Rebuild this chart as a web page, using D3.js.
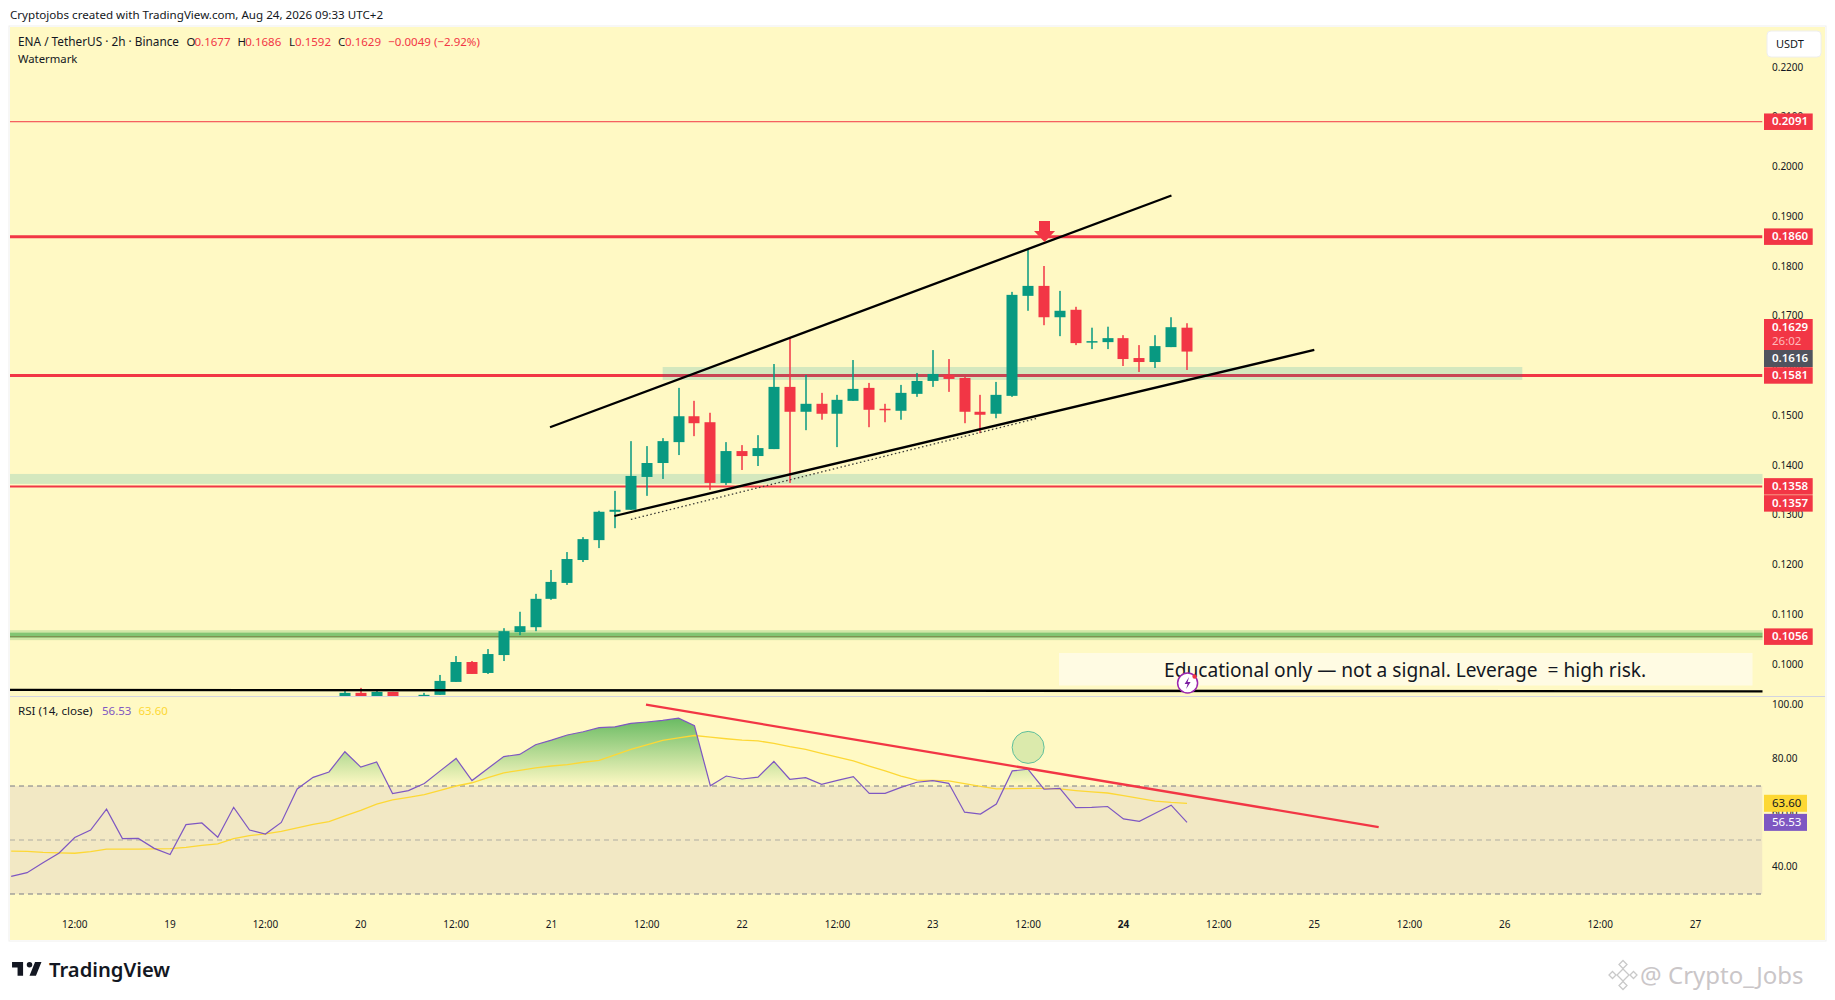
<!DOCTYPE html>
<html><head><meta charset="utf-8">
<script src="https://cdn.jsdelivr.net/npm/d3@7"></script>
<style>
html,body{margin:0;padding:0;background:#fff;width:1835px;height:1000px;overflow:hidden}
svg{display:block}
text{font-family:"Noto Sans",sans-serif}
</style></head><body>
<svg id="c" width="1835" height="1000"></svg>
<script>
// ---------- data ----------
const firstCandle = 17;
const opens  = [.0929,.0943,.0930,.0945,.0915,.0930,.0939,.0965,.1005,.0983,.1019,.1065,.1075,.1132,.1164,.1210,.1250,.1307,.1311,.1377,.1405,.1447,.1499,.1487,.1365,.1429,.1419,.1433,.1558,.1508,.1524,.1504,.1530,.1556,.1514,.1510,.1544,.1570,.1582,.1576,.1508,.1504,.1540,.1741,.1761,.1698,.1713,.1648,.1648,.1656,.1616,.1608,.1638,.1677];
const highs  = [.0950,.0953,.0947,.0945,.0933,.0943,.0979,.1017,.1007,.1031,.1073,.1106,.1142,.1190,.1226,.1256,.1309,.1349,.1449,.1439,.1455,.1556,.1530,.1506,.1447,.1441,.1461,.1604,.1658,.1582,.1546,.1542,.1612,.1566,.1524,.1562,.1586,.1632,.1614,.1578,.1542,.1568,.1749,.1835,.1801,.1751,.1719,.1677,.1679,.1662,.1642,.1662,.1698,.1686];
const lows   = [.0920,.0920,.0925,.0920,.0910,.0925,.0939,.0965,.0981,.0981,.1007,.1059,.1067,.1130,.1160,.1206,.1234,.1274,.1311,.1339,.1373,.1421,.1459,.1351,.1361,.1391,.1399,.1433,.1365,.1471,.1492,.1437,.1530,.1477,.1487,.1492,.1538,.1558,.1548,.1485,.1465,.1495,.1538,.1711,.1682,.1660,.1642,.1634,.1634,.1600,.1588,.1596,.1638,.1592];
const closes = [.0943,.0929,.0945,.0925,.0930,.0939,.0967,.1005,.0981,.1021,.1067,.1077,.1132,.1166,.1212,.1252,.1307,.1311,.1379,.1405,.1449,.1499,.1485,.1365,.1429,.1419,.1435,.1558,.1508,.1524,.1504,.1532,.1554,.1512,.1512,.1546,.1570,.1584,.1574,.1508,.1502,.1542,.1743,.1761,.1698,.1711,.1646,.1650,.1656,.1614,.1608,.1640,.1678,.1629];

const firstRsi = -4;
const rsi = [36.5,37.9,41.6,45.1,50.9,53.7,61.4,50.5,50.6,46.9,44.6,55.7,56.3,51.0,62.1,53.7,52.2,56.5,68.9,73.2,75.2,82.7,77.0,78.9,67.2,68.3,70.9,75.6,80.2,72.0,76.5,80.9,81.7,85.3,87.0,88.9,90.1,91.6,91.9,93.2,93.7,94.3,95.1,92.3,70.1,73.7,72.6,73.3,79.1,72.5,73.1,70.6,72.1,73.5,67.3,67.3,69.5,71.4,72.0,71.0,60.3,59.6,63.3,75.6,76.2,68.8,69.1,62.0,62.1,62.4,57.8,56.9,59.9,62.9,56.53];
const rsiMa = [45.9,45.8,45.4,45.2,45.1,45.7,46.6,46.6,46.6,46.7,46.8,47.3,48.0,48.6,50.5,51.6,52.3,53.2,54.5,55.8,56.8,58.9,61.0,63.3,64.9,65.8,66.8,68.4,70.0,71.2,73.1,74.9,75.8,76.7,77.4,77.9,78.8,79.5,81.5,83.6,85.2,86.9,87.8,88.7,88.1,87.5,87.0,86.7,85.8,84.6,83.6,82.1,80.7,79.3,77.4,75.6,73.7,72.2,72.1,71.9,70.9,69.9,68.9,69.0,69.1,69.1,68.9,68.3,67.8,67.4,66.4,65.4,64.4,63.9,63.6];

const timeTicks  = [0,6,12,18,24,30,36,42,48,54,60,66,72,78,84,90,96,102];
const timeLabels = ["12:00","19","12:00","20","12:00","21","12:00","22","12:00","23","12:00","24","12:00","25","12:00","26","12:00","27"];
const priceTicks = [.22,.21,.20,.19,.18,.17,.16,.15,.14,.13,.12,.11,.10];
const rsiTicks   = [100,80,60,40];
const hLines     = [.2091,.1860,.1581,.1358,.1056];
const hWidths    = [1,3,3,2,1];
const priceLabels= [.2091,.1860,.1581,.1358,.1357,.1056];
const upperTrend = [[29.91,.14768],[69.02,.19427]];
const lowerTrend = [[33.96,.12985],[78.01,.16322]];
const dottedTrend= [[35.0,.12917],[60.5,.14943]];
const floorLine  = [[-5,.0949],[108,.0946]];
const rsiTrend   = [[35.95,100.1],[82.06,54.8]];
const zones      = [[37,91.1,.1598,.1572],[-5,108,.1383,.1363],[-5,108,.1069,.1049],[-5,108,.1064,.1054]];
const zoneFills  = ["rgba(0,150,160,.17)","rgba(0,150,160,.17)","rgba(76,175,80,.25)","rgba(76,175,80,.6)"];

// ---------- layout ----------
const L=10,R=1825,T=27,B=940,PR=1762.5,DIV=696;
const BG="#fff9c4",GREEN="#089981",RED="#f23645",PURPLE="#7e57c2",YEL="#fdd835",TXT="#131722";
const x=d3.scaleLinear().domain([0,102]).range([74.75,1695.5]);
const y=d3.scaleLinear().domain([.10,.22]).range([664.5,67.5]);
const yr=d3.scaleLinear().domain([100,30]).range([705,894]);
const svg=d3.select("#c");
const defs=svg.append("defs");
defs.append("clipPath").attr("id","pp").append("rect").attr("x",L).attr("y",T).attr("width",PR-L).attr("height",DIV-T);
defs.append("clipPath").attr("id","rp").append("rect").attr("x",L).attr("y",DIV).attr("width",PR-L).attr("height",B-DIV);
defs.append("clipPath").attr("id","ob").append("rect").attr("x",L).attr("y",DIV).attr("width",PR-L).attr("height",yr(70)-DIV);
const gr=defs.append("linearGradient").attr("id","ob-g").attr("gradientUnits","userSpaceOnUse").attr("x1",0).attr("x2",0).attr("y1",yr(100)).attr("y2",yr(70));
gr.append("stop").attr("offset",0).attr("stop-color","#4caf50").attr("stop-opacity",1);
gr.append("stop").attr("offset",1).attr("stop-color","#4caf50").attr("stop-opacity",0);

// background
svg.append("rect").attr("x",L-1).attr("y",T-1).attr("width",R-L+2).attr("height",B-T+2).attr("fill","none").attr("stroke","#f0f0ee");
svg.append("rect").attr("x",L).attr("y",T).attr("width",R-L).attr("height",B-T).attr("fill",BG);

// price pane
const pp=svg.append("g").attr("clip-path","url(#pp)");
pp.selectAll("line.h").data(hLines).join("line").attr("class","h")
  .attr("x1",L).attr("x2",PR).attr("y1",d=>y(d)).attr("y2",d=>y(d))
  .attr("stroke",RED).attr("stroke-width",(d,i)=>hWidths[i]);
pp.selectAll("rect.z").data(zones).join("rect").attr("class","z")
  .attr("x",d=>x(d[0])).attr("width",d=>x(d[1])-x(d[0]))
  .attr("y",d=>y(d[2])).attr("height",d=>y(d[3])-y(d[2]))
  .attr("fill",(d,i)=>zoneFills[i]);

const idx=d3.range(opens.length);
const cx=i=>x(i+firstCandle);
const col=i=>closes[i]>=opens[i]?GREEN:RED;
pp.selectAll("rect.w").data(idx).join("rect").attr("class","w")
  .attr("x",i=>Math.round(cx(i))-.75).attr("width",1.5)
  .attr("y",i=>y(highs[i])).attr("height",i=>y(lows[i])-y(highs[i])).attr("fill",col);
pp.selectAll("rect.b").data(idx).join("rect").attr("class","b")
  .attr("x",i=>Math.round(cx(i))-5.5).attr("width",11)
  .attr("y",i=>y(Math.max(opens[i],closes[i])))
  .attr("height",i=>Math.max(1.5,Math.abs(y(opens[i])-y(closes[i])))).attr("fill",col);

const ln=d3.line().x(d=>x(d[0])).y(d=>y(d[1]));
pp.append("path").attr("d",ln(dottedTrend)).attr("fill","none").attr("stroke","#3a3a36").attr("stroke-width",1.3).attr("stroke-dasharray","1.5 2.5");
[upperTrend,lowerTrend].forEach(t=>pp.append("path").attr("d",ln(t)).attr("fill","none").attr("stroke","#000").attr("stroke-width",2.3));
pp.append("path").attr("d",ln(floorLine)).attr("fill","none").attr("stroke","#000").attr("stroke-width",2.4);

// arrow
pp.append("path").attr("transform",`translate(${x(61)+.5},${y(.1849)})`)
  .attr("d","M0 0 L-10.5 -11 L-5.5 -11 L-5.5 -21 L5.5 -21 L5.5 -11 L10.5 -11 Z").attr("fill",RED);

// note box
svg.append("rect").attr("x",1059).attr("y",653).attr("width",693.5).attr("height",32.5).attr("fill","#fffbe3");
svg.append("text").attr("x",1164).attr("y",670).attr("dy",".35em").attr("font-size",19.15).attr("fill",TXT)
  .attr("xml:space","preserve").text("Educational only — not a signal. Leverage  = high risk.");

// divider
svg.append("line").attr("x1",L).attr("x2",R).attr("y1",DIV+.5).attr("y2",DIV+.5).attr("stroke","#d3d4e0");

// badge
const bd=svg.append("g").attr("transform","translate(1187.6,683)");
bd.append("circle").attr("r",10).attr("fill","#fff").attr("stroke","#9c27b0").attr("stroke-width",1.5);
bd.append("path").attr("d","M1.5 -6 L-3 1 L0 1 L-1.5 6 L3 -1 L0 -1 Z").attr("fill","#7b1fa2");
bd.append("circle").attr("cx",7).attr("cy",-6.5).attr("r",2.2).attr("fill",RED);

// RSI pane
const rp=svg.append("g").attr("clip-path","url(#rp)");
rp.append("rect").attr("x",L).attr("width",PR-L).attr("y",yr(70)).attr("height",yr(30)-yr(70)).attr("fill","rgba(126,87,194,.1)");
[70,50,30].forEach(v=>rp.append("line").attr("x1",L).attr("x2",PR).attr("y1",yr(v)).attr("y2",yr(v))
  .attr("stroke","#787b86").attr("stroke-opacity",v==50?.55:1).attr("stroke-width",1).attr("stroke-dasharray","5 4"));
const rx=(d,i)=>x(i+firstRsi);
rp.append("g").attr("clip-path","url(#ob)").append("path")
  .attr("d",d3.area().x(rx).y0(yr(70)).y1(d=>yr(d))(rsi)).attr("fill","url(#ob-g)");
rp.append("path").attr("d",d3.line().x(rx).y(d=>yr(d))(rsiMa)).attr("fill","none").attr("stroke",YEL).attr("stroke-width",1.3);
rp.append("path").attr("d",d3.line().x(rx).y(d=>yr(d))(rsi)).attr("fill","none").attr("stroke",PURPLE).attr("stroke-width",1.2);
rp.append("path").attr("d",d3.line().x(d=>x(d[0])).y(d=>yr(d[1]))(rsiTrend)).attr("fill","none").attr("stroke",RED).attr("stroke-width",2.3);
rp.append("circle").attr("cx",x(60)).attr("cy",yr(84.3)).attr("r",16).attr("fill","rgba(76,175,80,.2)").attr("stroke","#5fbf9c").attr("stroke-width",1);

// axes
const tick=g=>{g.select(".domain").remove();g.selectAll("line").remove();g.selectAll("text").attr("font-family",'"Noto Sans",sans-serif');};
svg.append("g").attr("transform","translate(1772,-0.5)").attr("font-size",11.5)
  .call(d3.axisRight(y).tickValues(priceTicks).tickFormat(d3.format(".4f")).tickSize(0).tickPadding(0)).call(tick)
  .selectAll("text").attr("fill",TXT);
svg.append("g").attr("transform","translate(1772,-1)").attr("font-size",11.5)
  .call(d3.axisRight(yr).tickValues(rsiTicks).tickFormat(d3.format(".2f")).tickSize(0).tickPadding(0)).call(tick)
  .selectAll("text").attr("fill",TXT);
const ax=svg.append("g").attr("transform","translate(-0.5,921)").attr("font-size",11.5)
  .call(d3.axisBottom(x).tickValues(timeTicks).tickFormat((d,i)=>timeLabels[i]).tickSize(0).tickPadding(0)).call(tick);
ax.selectAll("text").attr("fill",TXT).attr("font-weight",(d,i)=>timeLabels[i]=="24"?700:400);

// price labels
const nudge=v=>v==.1357?16.5:0;
const box=(cy,h,fill,label,tc,w)=>{
  svg.append("rect").attr("x",1764).attr("y",cy-h/2).attr("width",w||48.7).attr("height",h).attr("fill",fill);
  if(label) svg.append("text").attr("x",1772).attr("y",cy-.6).attr("dy",".36em").attr("font-size",11.5).attr("font-weight",tc?400:600).attr("fill",tc||"#fff").text(label);
};
priceLabels.forEach(v=>box(y(v)+nudge(v),16.5,RED,d3.format(".4f")(v)));
svg.append("rect").attr("x",1764).attr("y",319).attr("width",48.7).attr("height",31).attr("fill",RED);
svg.append("text").attr("x",1772).attr("y",327).attr("dy",".36em").attr("font-size",11.5).attr("font-weight",600).attr("fill","#fff").text(d3.format(".4f")(closes[closes.length-1]));
svg.append("text").attr("x",1772).attr("y",341).attr("dy",".36em").attr("font-size",11.5).attr("fill","#fbb").text("26:02");
box(358.5,17,"#50535e","0.1616");
box(yr(63.6),17,YEL,"63.60",TXT,43);
box(yr(56.53),17,PURPLE,"56.53","#fff",43);

// USDT button
svg.append("rect").attr("x",1767).attr("y",31).attr("width",54).attr("height",26).attr("rx",4).attr("fill","#fff").attr("stroke","#eeeeee");
svg.append("text").attr("x",1776).attr("y",44.5).attr("dy",".36em").attr("font-size",11).attr("fill",TXT).text("USDT");

// header and legends
const t=(xx,yy,s,fill,fs)=>svg.append("text").attr("x",xx).attr("y",yy).attr("dy",".36em").attr("font-size",fs||11.6).attr("fill",fill||TXT).text(s);
t(10,14.5,"Cryptojobs created with TradingView.com, Aug 24, 2026 09:33 UTC+2");
t(18,41.5,"ENA / TetherUS · 2h · Binance",TXT,11.8);
[["O",186.6,TXT],["0.1677",194.5,RED],["H",237.6,TXT],["0.1686",245.3,RED],["L",289,TXT],["0.1592",295,RED],["C",338,TXT],["0.1629",345,RED],["−0.0049",388.3,RED],["(−2.92%)",434,RED]]
  .forEach(a=>t(a[1],41.5,a[0],a[2],11.5));
t(18,58.5,"Watermark",TXT,11.3);
t(18,711.2,"RSI (14, close)");
t(102,711.2,"56.53",PURPLE,11.5);
t(138.4,711.2,"63.60",YEL,11.5);

// logo
svg.append("path").attr("transform","translate(10.2,956.5) scale(.92)")
  .attr("d","M14 6H2v6h6v9h6V6Zm14 15h-7l6-15h7l-6 15Zm-7-9a3 3 0 1 0 0-6 3 3 0 0 0 0 6Z").attr("fill","#131722");
svg.append("text").attr("x",49).attr("y",969.5).attr("dy",".36em").attr("font-size",20.2).attr("font-weight",600).attr("fill","#131722").text("TradingView");

// watermark
const wm=svg.append("g").attr("fill","none").attr("stroke","#c9c9c9").attr("stroke-width",1.3);
[[1623,975,6],[1612.5,975,3.5],[1633.5,975,3.5],[1623,964.5,4],[1623,985.5,4]].forEach(d=>
  wm.append("path").attr("d",`M${d[0]} ${d[1]-d[2]}L${d[0]+d[2]} ${d[1]}L${d[0]} ${d[1]+d[2]}L${d[0]-d[2]} ${d[1]}Z`));
svg.append("text").attr("x",1640).attr("y",975).attr("dy",".36em").attr("font-size",24).attr("fill","#cac6c8").text("@");
svg.append("text").attr("x",1668).attr("y",975).attr("dy",".36em").attr("font-size",24).attr("fill","#cac6c8").text("Crypto_Jobs");
</script></body></html>
